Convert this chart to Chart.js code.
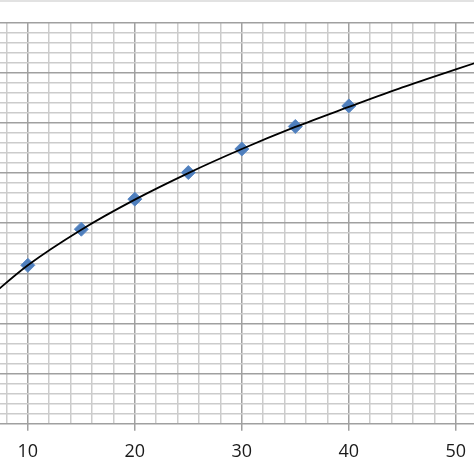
<!DOCTYPE html>
<html>
<head>
<meta charset="utf-8">
<script src="https://cdn.jsdelivr.net/npm/chart.js@4.4.1/dist/chart.umd.min.js"></script>
<style>
  html, body { margin: 0; padding: 0; background: #fff; }
  #wrap { position: relative; width: 474px; height: 474px; }
  #topStrip { position: absolute; left: 0; top: 0; width: 474px; height: 2px; background: #e2e2e2; }
</style>
</head>
<body>
<div id="wrap">
  <canvas id="chart" width="474" height="474"></canvas>
  <div id="topStrip"></div>
</div>
<script>
// 测量点（菱形标记）
const sampleX = [10, 15, 20, 25, 30, 35, 40];
const sampleY = [31.6, 38.8, 44.8, 50.1, 54.8, 59.3, 63.4];

// 趋势线（从图上读出的点）
const curveX = [6, 10, 15, 20, 25, 30, 35, 40, 45, 50, 53];
const curveY = [24.5, 31.6, 38.7, 44.7, 50.0, 54.8, 59.2, 63.2, 67.1, 70.7, 72.8];

// 坐标轴范围（图片被裁剪，左右两端不完整）
const xRange = [7.4, 51.7];
const yRange = [0, 80];
const xMajor = 10, xMinor = 2;
const yMajor = 10, yMinor = 2;

const majorColor = '#a0a0a0';
const minorColor = '#cccccc';

function isMajor(value, step) {
    return Math.abs(value / step - Math.round(value / step)) < 1e-6;
}

function stepTicks(min, max, step) {
    const ticks = [];
    for (let v = Math.ceil(min / step) * step; v <= max + 1e-9; v += step) {
        ticks.push({ value: Math.round(v * 1000) / 1000 });
    }
    return ticks;
}

const ctx = document.getElementById('chart').getContext('2d');
new Chart(ctx, {
    data: {
        datasets: [
            {
                type: 'line',
                label: 'fit',
                data: curveX.map((x, i) => ({ x: x, y: curveY[i] })),
                borderColor: '#000000',
                borderWidth: 1.8,
                pointRadius: 0,
                cubicInterpolationMode: 'monotone',
                fill: false,
                order: 0
            },
            {
                type: 'scatter',
                label: 'data',
                data: sampleX.map((x, i) => ({ x: x, y: sampleY[i] })),
                pointStyle: 'rectRot',
                pointRadius: 7,
                backgroundColor: '#4f7fbd',
                borderColor: '#5a88c4',
                borderWidth: 1,
                order: 1
            }
        ]
    },
    options: {
        responsive: false,
        animation: false,
        layout: {
            autoPadding: false,
            padding: { top: 22.7, left: 0, right: 0, bottom: 0 }
        },
        plugins: {
            legend: { display: false },
            tooltip: { enabled: false }
        },
        scales: {
            x: {
                type: 'linear',
                min: xRange[0],
                max: xRange[1],
                afterBuildTicks: scale => { scale.ticks = stepTicks(xRange[0], xRange[1], xMinor); },
                afterFit: scale => {
                    scale.height = 50.3;
                    scale.paddingLeft = 0;
                    scale.paddingRight = 0;
                },
                border: { display: false },
                grid: {
                    color: c => isMajor(c.tick.value, xMajor) ? majorColor : minorColor,
                    lineWidth: 1.5,
                    tickLength: 7,
                    tickColor: c => isMajor(c.tick.value, xMajor) ? majorColor : 'rgba(0,0,0,0)'
                },
                ticks: {
                    autoSkip: false,
                    maxRotation: 0,
                    padding: 10,
                    color: '#1a1a1a',
                    font: { family: 'Open Sans', size: 18 },
                    callback: v => isMajor(v, xMajor) ? String(v) : ''
                }
            },
            y: {
                type: 'linear',
                min: yRange[0],
                max: yRange[1],
                afterBuildTicks: scale => { scale.ticks = stepTicks(yRange[0], yRange[1], yMinor); },
                afterFit: scale => {
                    scale.width = 0;
                    scale.paddingTop = 0;
                    scale.paddingBottom = 0;
                },
                border: { display: false },
                grid: {
                    color: c => isMajor(c.tick.value, yMajor) ? majorColor : minorColor,
                    lineWidth: 1.5,
                    drawTicks: false
                },
                ticks: { display: false }
            }
        }
    }
});
</script>
</body>
</html>
